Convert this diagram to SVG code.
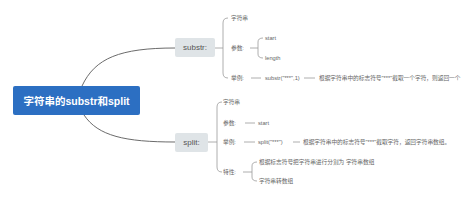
<svg xmlns="http://www.w3.org/2000/svg" width="474" height="201" viewBox="0 0 474 201">
<style>
.bg{fill:#ffffff}
.main{fill:none;stroke:#6b6b6b;stroke-width:1}
.br{fill:none;stroke:#9a9a9a;stroke-width:0.8}
.node{fill:#dfe4e7}
.nt{font-family:"Liberation Sans","Noto Sans CJK SC",sans-serif;font-size:8px;fill:#555;dominant-baseline:central;text-anchor:middle}
.root{fill:#2c6fc2}
.rt{font-family:"Liberation Sans","Noto Sans CJK SC",sans-serif;font-size:10.5px;font-weight:bold;fill:#fff;dominant-baseline:central;text-anchor:middle}
.t{font-family:"Liberation Sans","Noto Sans CJK SC",sans-serif;font-size:5.7px;fill:#666;dominant-baseline:central}
</style>
<rect class="bg" x="0" y="0" width="474" height="201"/>
<g id="connectors">
<path class="main" d="M82 86 C95 58 120 48 175 48"/>
<path class="main" d="M84 115 C98 136 125 142 175 142"/>
<path class="br" d="M215 48 H223"/>
<path class="br" d="M228 18 Q223 18 223 23 V73 Q223 78 228 78"/>
<path class="br" d="M250 48 H258"/>
<path class="br" d="M263 38 Q258 38 258 42 V54 Q258 58 263 58"/>
<path class="br" d="M251 78 H261"/>
<path class="br" d="M304 78 H315"/>
<path class="br" d="M208 142 H217"/>
<path class="br" d="M222 102 Q217 102 217 107 V167 Q217 172 222 172"/>
<path class="br" d="M245 123 H255"/>
<path class="br" d="M244 142 H255"/>
<path class="br" d="M293 142 H300"/>
<path class="br" d="M243 172 H252"/>
<path class="br" d="M257 162 Q252 162 252 166 V177 Q252 181 257 181"/>
</g>
<g id="root">
<rect class="root" x="13" y="86" width="127" height="29" rx="2"/>
<text class="rt" x="76.5" y="100.5">字符串的substr和split</text>
</g>
<g id="substr">
<rect class="node" x="175" y="38" width="40" height="19" rx="2"/>
<text class="nt" x="195" y="47.5">substr:</text>
</g>
<g id="split">
<rect class="node" x="175" y="133" width="33" height="19" rx="2"/>
<text class="nt" x="191.5" y="142.5">split:</text>
</g>
<g id="substr-children">
<text class="t" x="231" y="18">字符串</text>
<text class="t" x="231" y="48">参数:</text>
<text class="t" x="265" y="38">start</text>
<text class="t" x="265" y="58">length</text>
<text class="t" x="231" y="78">举例:</text>
<text class="t" x="265" y="78">substr("***",1)</text>
<text class="t" x="319" y="78">根据字符串中的标志符号"***"截取一个字符，则返回一个</text>
</g>
<g id="split-children">
<text class="t" x="223" y="102">字符串</text>
<text class="t" x="223" y="123">参数:</text>
<text class="t" x="258" y="123">start</text>
<text class="t" x="223" y="142">举例:</text>
<text class="t" x="258" y="142">split("***")</text>
<text class="t" x="303" y="142">根据字符串中的标志符号"***"截取字符，返回字符串数组。</text>
<text class="t" x="223" y="172">特性:</text>
<text class="t" x="259" y="162">根据标志符号把字符串进行分割为 字符串数组</text>
<text class="t" x="259" y="181">字符串转数组</text>
</g>
</svg>
